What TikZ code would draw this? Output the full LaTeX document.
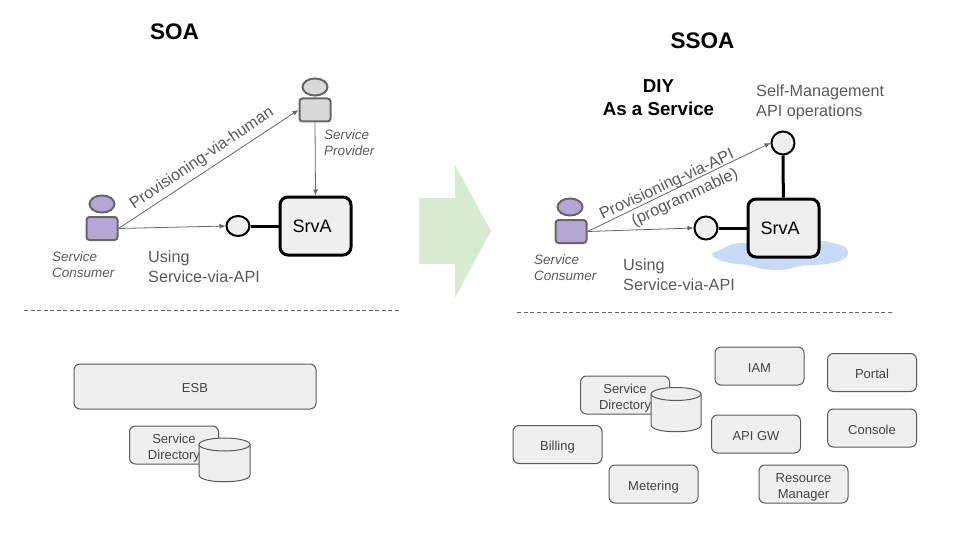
\documentclass[tikz,border=0pt]{standalone}
\usepackage{fontspec}
\setmainfont{Liberation Sans}
\usepackage{xcolor}
\usetikzlibrary{arrows.meta,
				shapes.geometric}
\definecolor{boxfill}{HTML}{EFEFEF}
\definecolor{boxline}{HTML}{595959}
\definecolor{txtgray}{HTML}{434343}
\definecolor{lblgray}{HTML}{595959}
\definecolor{conline}{HTML}{666666}
\definecolor{purplefill}{HTML}{B4A7D6}
\definecolor{grayfill}{HTML}{D9D9D9}
\definecolor{cloudfill}{HTML}{C9DAF8}
\definecolor{arrowfill}{HTML}{D9EAD3}
\tikzset{
	title/.style={font=\bfseries\fontsize{22.5}{26}\selectfont},
	subtitle/.style={font=\bfseries\fontsize{18.7}{23}\selectfont,align=center},
	lbl/.style={text=lblgray,inner sep=0pt,font=\fontsize{16.2}{20}\selectfont,align=left},
	rotlbl/.style={text=lblgray,inner sep=0pt,font=\fontsize{16.2}{20}\selectfont},
	role/.style={text=lblgray,inner sep=0pt,font=\itshape\fontsize{13.5}{16}\selectfont,align=left},
	box/.style={draw=boxline,fill=boxfill,line width=1pt,rounded corners=6pt,inner sep=0pt,
		minimum width=89pt,minimum height=38pt,align=center,text=txtgray,
		font=\fontsize{13}{16}\selectfont,execute at begin node={\rule[-3pt]{0pt}{18.4pt}}},
	boxtwo/.style={box,execute at begin node={},text height=31.4pt},
	drum/.style={draw=boxline,fill=boxfill,line width=1pt},
	srv/.style={draw=black,fill=boxfill,line width=3pt,rounded corners=8pt,inner sep=0pt,
		minimum width=71pt,minimum height=58pt,font=\fontsize{18}{22}\selectfont},
	port/.style={draw=black,fill=boxfill,line width=2pt,ellipse,inner sep=0pt,
		minimum width=23pt,minimum height=20pt},
	head/.style={draw=conline,line width=2pt,ellipse,inner sep=0pt,
		minimum width=25pt,minimum height=17pt},
	body/.style={draw=conline,line width=2pt,rounded corners=3pt,inner sep=0pt,
		minimum width=31pt,minimum height=23pt},
	conn/.style={draw=conline,line width=.8pt,-{Latex[length=6pt,width=5pt]}},
	wire/.style={draw=black,line width=3pt},
	sep/.style={draw=conline,line width=.8pt,dash pattern=on 4pt off 2.5pt}
}
\begin{document}
\begin{tikzpicture}[x=1pt,y=-1pt]
	\useasboundingbox (0,0) rectangle (960,540);
	\path[fill=arrowfill] (419,198) -- (455,198) -- (455,165) -- (491,231) -- (455,298) -- (455,264) -- (419,264) -- cycle;

	\node[title] (soatitle) at (174.5,31.5) {SOA};
	\node[head,fill=purplefill] (conheadA) at (102,204) {};
	\node[body,fill=purplefill] (conbodyA) at (102,228.5) {};
	\node[head,fill=grayfill] (provhead) at (315,87) {};
	\node[body,fill=grayfill] (provbody) at (315,110) {};
	\node[srv] (srvA) at (315.5,226) {\hspace*{-7pt}SrvA};
	\node[port] (portA) at (238,226) {};
	\draw[conn] (conbodyA.east) -- (provbody.west);
	\draw[conn] (provbody.south) -- (srvA.north);
	\draw[conn] (conbodyA.east) -- (portA.west);
	\draw[wire] (portA) -- (srvA);
	\node[rotlbl,rotate=34] (provhuman) at (202,158.5) {Provisioning-via-human};
	\node[role,anchor=west] (provrole) at (324,143) {Service\\Provider};
	\node[role,anchor=west] (conroleA) at (52,265) {Service\\Consumer};
	\node[lbl,anchor=west] (usingA) at (148,267) {Using\\Service-via-API};
	\coordinate (sepAa) at (24,310);
	\coordinate (sepAb) at (399,310);
	\draw[sep] (sepAa) -- (sepAb);
	\node[box,minimum width=242pt,minimum height=45pt] (esb) at (195,386.5) {ESB};
	\node[boxtwo] (dirA) at (174,445) {Service\\Directory};
	\path[drum] (199,444.5) -- (199,475) .. controls (199,484) and (250,484) .. (250,475) -- (250,444.5) -- cycle;
	\path[drum] (224.5,444.5) ellipse [x radius=25.5,y radius=6.5];

	\node[title] (ssoatitle) at (702.5,40.5) {SSOA};
	\node[subtitle] (diy) at (658.5,97.5) {DIY\\As a Service};
	\node[lbl,anchor=west] (selfmgmt) at (756,102) {Self-Management\\API operations};
	\path[fill=cloudfill] plot[smooth cycle,tension=.6] coordinates {(712,254) (720,250) (733,244) (747,243)
		(790,242) (820,241) (833,243) (845,247) (848,254) (842,260) (827,264) (800,266)
		(783,270) (763,269) (747,265) (730,263) (717,259)};
	\node[head,fill=purplefill] (conheadB) at (570,207) {};
	\node[body,fill=purplefill] (conbodyB) at (571,231.5) {};
	\node[srv] (srvB) at (783.5,228) {\hspace*{-7pt}SrvA};
	\node[port,minimum height=23pt] (portB) at (706,228) {};
	\node[port,minimum height=23pt] (portC) at (783,143) {};
	\draw[conn] (conbodyB.east) -- (portC.west);
	\draw[conn] (conbodyB.east) -- (portB.west);
	\draw[wire] (portB) -- (srvB);
	\draw[wire] (portC) -- (srvB);
	\node[rotlbl,rotate=25] (provapi) at (667,185) {Provisioning-via-API};
	\node[rotlbl,rotate=25] (program) at (685,198) {(programmable)};
	\node[role,anchor=west] (conroleB) at (534,268) {Service\\Consumer};
	\node[lbl,anchor=west] (usingB) at (623,275) {Using\\Service-via-API};
	\coordinate (sepBa) at (517,312);
	\coordinate (sepBb) at (893,312);
	\draw[sep] (sepBa) -- (sepBb);
	\node[boxtwo] (dirB) at (625,395) {Service\\Directory};
	\path[drum] (651,394) -- (651,425) .. controls (651,434) and (701,434) .. (701,425) -- (701,394) -- cycle;
	\path[drum] (676,394) ellipse [x radius=25,y radius=6.5];
	\node[box] (iam) at (759.5,366) {IAM};
	\node[box] (portal) at (872,372.5) {Portal};
	\node[box] (apigw) at (756,434) {API GW};
	\node[box] (console) at (872,428) {Console};
	\node[box] (billing) at (557.5,444.5) {Billing};
	\node[box] (metering) at (653.5,484) {Metering};
	\node[boxtwo] (resmgr) at (803.5,484) {Resource\\Manager};
\end{tikzpicture}
\end{document}
